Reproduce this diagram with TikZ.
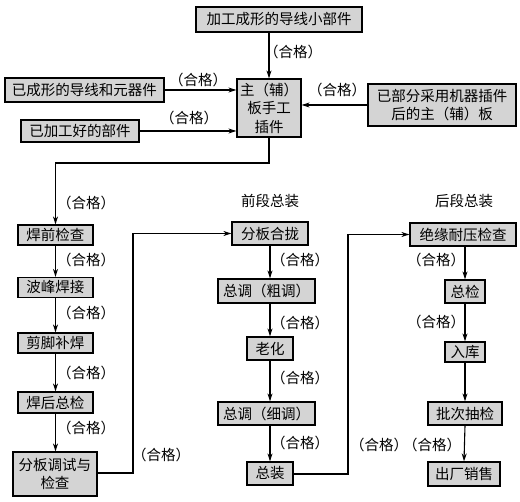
\documentclass[tikz,border=0pt]{standalone}
\usepackage{fontspec}
\setmainfont{Noto Sans CJK SC}
\usetikzlibrary{arrows.meta}
\definecolor{boxfill}{RGB}{212,212,212}
\tikzset{
  box/.style={draw=black, fill=boxfill, line width=1.2pt, inner sep=0pt, align=center,
    font=\fontsize{14.5pt}{18.5pt}\selectfont},
  lbl/.style={inner sep=0pt, font=\fontsize{14.5pt}{17pt}\selectfont},
  arr/.style={draw=black, line width=1.1pt, -{Stealth[length=8pt,width=5pt]}},
  ln/.style={draw=black, line width=1.1pt}
}
\begin{document}
\begin{tikzpicture}[x=1pt,y=-1pt]
\useasboundingbox (0,0) rectangle (520,502);
% top block
\node[box, minimum width=166pt, minimum height=25pt] (top) at (279,19.5) {加工成形的导线小部件};
\node[box, minimum width=159pt, minimum height=24pt] (l1) at (84.5,90) {已成形的导线和元器件};
\node[box, minimum width=118pt, minimum height=22pt] (l2) at (80,131) {已加工好的部件};
\node[box, minimum width=64pt, minimum height=58pt] (ctr) at (269,108) {主（辅）\\板手工\\插件};
\node[box, minimum width=148pt, minimum height=42pt] (rt) at (442,105) {已部分采用机器插件\\后的主（辅）板};
% left column
\node[box, minimum width=75pt, minimum height=20pt] (a1) at (55.5,235) {焊前检查};
\node[box, minimum width=75pt, minimum height=20pt] (a2) at (55.5,287.5) {波峰焊接};
\node[box, minimum width=75pt, minimum height=20pt] (a3) at (55.5,343) {剪脚补焊};
\node[box, minimum width=75pt, minimum height=21pt] (a4) at (55.5,402.5) {焊后总检};
\node[box, minimum width=84pt, minimum height=44pt] (a5) at (55,474) {分板调试与\\检查};
% middle column
\node[lbl] (h1) at (270,201) {前段总装};
\node[box, minimum width=76pt, minimum height=23pt] (b1) at (270,233.5) {分板合拢};
\node[box, minimum width=97pt, minimum height=24pt] (b2) at (266.5,291) {总调（粗调）};
\node[box, minimum width=46pt, minimum height=23pt] (b3) at (270,348.5) {老化};
\node[box, minimum width=97pt, minimum height=23pt] (b4) at (266.5,413.5) {总调（细调）};
\node[box, minimum width=46pt, minimum height=23pt] (b5) at (270,473.5) {总装};
% right column
\node[lbl] (h2) at (464,201) {后段总装};
\node[box, minimum width=106pt, minimum height=23pt] (c1) at (463,234.5) {绝缘耐压检查};
\node[box, minimum width=40pt, minimum height=23pt] (c2) at (465,291.5) {总检};
\node[box, minimum width=40pt, minimum height=20pt] (c3) at (465,352) {入库};
\node[box, minimum width=74pt, minimum height=23pt] (c4) at (465,413.5) {批次抽检};
\node[box, minimum width=72pt, minimum height=24pt] (c5) at (464,474) {出厂销售};
% connectors top block
\draw[arr] (ctr.north |- top.south) -- (ctr.north);
\draw[arr] (l1.east) -- (l1.east -| ctr.west);
\draw[arr] (l2.east) -- (l2.east -| ctr.west);
\draw[arr] (rt.west) -- (rt.west -| ctr.east);
\coordinate (k1) at (269,163);
\draw[arr] (ctr.south) -- (k1) -| (a1.north);
% left column
\draw[arr] (a1) -- (a2);
\draw[arr] (a2) -- (a3);
\draw[arr] (a3) -- (a4);
\draw[arr] (a4) -- (a4.south |- a5.north);
\coordinate (k2) at (133,473);
\draw[arr] (a5.east |- k2) -- (k2) |- (b1.west);
% middle column
\draw[arr] (b1.south) -- (b1.south |- b2.north);
\draw[arr] (b1.south |- b2.south) -- (b3.north);
\draw[arr] (b3.south) -- (b3.south |- b4.north);
\draw[arr] (b3.south |- b4.south) -- (b5.north);
\coordinate (k3) at (348,474);
\draw[arr] (b5.east |- k3) -- (k3) |- (c1.west);
% right column
\draw[arr] (c2.north |- c1.south) -- (c2.north);
\draw[arr] (c2.south) -- (c3.north);
\draw[arr] (c3.south) -- (c3.south |- c4.north);
\draw[arr] (c3.south |- c4.south) -- (c5.north);
% labels
\node[lbl] (q1) at (293,52) {（合格）};
\node[lbl] (q2) at (198,80) {（合格）};
\node[lbl] (q3) at (189,118) {（合格）};
\node[lbl] (q4) at (337,90) {（合格）};
\node[lbl] (q5) at (86,203) {（合格）};
\node[lbl] (q6) at (86,260) {（合格）};
\node[lbl] (q7) at (86,313) {（合格）};
\node[lbl] (q8) at (86,373) {（合格）};
\node[lbl] (q9) at (86,428) {（合格）};
\node[lbl] (q10) at (161,455) {（合格）};
\node[lbl] (q11) at (300,260) {（合格）};
\node[lbl] (q12) at (300,323) {（合格）};
\node[lbl] (q13) at (300,378) {（合格）};
\node[lbl] (q14) at (300,443) {（合格）};
\node[lbl] (q15) at (436,260) {（合格）};
\node[lbl] (q16) at (436,322) {（合格）};
\node[lbl] (q17) at (379,445) {（合格）};
\node[lbl] (q18) at (432,445) {（合格）};
\end{tikzpicture}
\end{document}
